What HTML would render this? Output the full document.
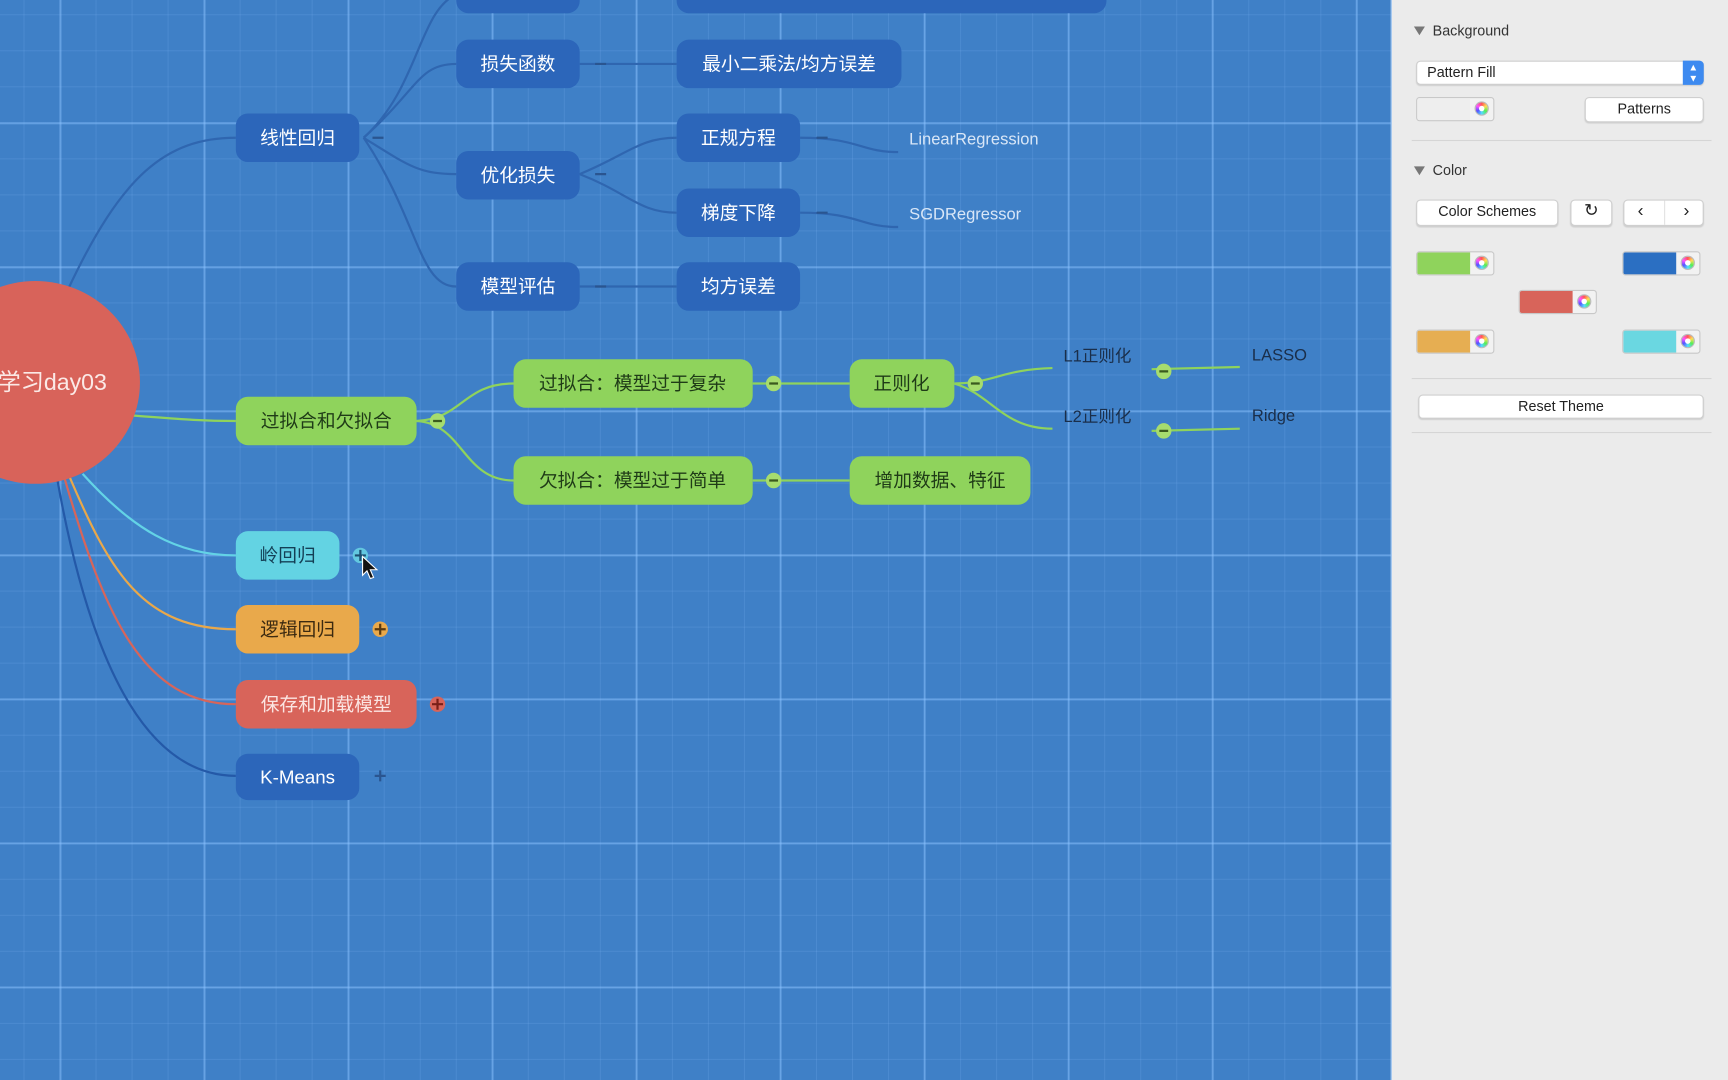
<!DOCTYPE html>
<html><head><meta charset="utf-8"><style>
html,body{margin:0;padding:0;width:1728px;height:1080px;overflow:hidden;background:#3f7fc6}
#w{position:absolute;left:0;top:0;width:1568px;height:980px;transform:scale(1.10204);transform-origin:0 0;font-family:"Liberation Sans","Noto Sans CJK SC",sans-serif}
#cv{position:absolute;left:0;top:0;width:1262px;height:980px;background-color:#3f80c7;
background-image:
linear-gradient(to right,rgba(140,195,255,.45) 0 2px,transparent 2px),
linear-gradient(to bottom,rgba(140,195,255,.45) 0 2px,transparent 2px),
linear-gradient(to right,rgba(120,175,240,.22) 0 1px,transparent 1px),
linear-gradient(to bottom,rgba(120,175,240,.22) 0 1px,transparent 1px);
background-size:130.7px 130.7px,130.7px 130.7px,32.7px 32.7px,32.7px 32.7px;
background-position:54px 0,0 111px,54px 0,0 111px}
#pn{position:absolute;left:1262px;top:0;width:306px;height:980px;background:#ebebeb;border-left:1px solid #9cc3f0;font-size:13px;color:#222}
.btn{position:absolute;background:#fff;border:1px solid #cfcfcf;border-radius:4px;box-shadow:0 1px 1px rgba(0,0,0,.12);text-align:center;font-size:13px;line-height:20px;box-sizing:border-box}
.sw{position:absolute;width:71px;height:22px;border:1px solid #c8c8c8;border-radius:3px;box-sizing:border-box;background:#f2f2f2;overflow:hidden}
.sw i{position:absolute;left:0;top:0;bottom:0;width:48px}
.sw b{position:absolute;right:4px;top:3px;width:13px;height:13px;border-radius:50%;background:conic-gradient(#f55,#fd5,#5e5,#5df,#55f,#f5f,#f55);border:1px solid #bbb;box-sizing:border-box}
.sw b:after{content:"";position:absolute;left:3px;top:3px;width:5px;height:5px;border-radius:50%;background:#fff}
.sep{position:absolute;left:18px;width:272px;height:1px;background:#d5d5d5}
.hd{position:absolute;left:37px;font-size:13px;color:#333}
.tri{position:absolute;left:20px;width:0;height:0;border-left:5px solid transparent;border-right:5px solid transparent;border-top:8px solid #777}
</style></head><body><div id="w">
<div id="cv">
<svg width="1262" height="980" style="position:absolute;left:0;top:0" font-family="Liberation Sans, Noto Sans CJK SC, sans-serif">
<g fill="none" stroke-width="2">
<path d="M62 262 C110 160,150 125,214 125" stroke="#2f66b0"/>
<path d="M330 125 C380 80,380 10,414 -5" stroke="#2f66b0"/>
<path d="M330 125 C380 80,380 58,414 58" stroke="#2f66b0"/>
<path d="M330 125 C370 150,380 158,414 158" stroke="#2f66b0"/>
<path d="M330 125 C380 200,380 260,414 260" stroke="#2f66b0"/>
<path d="M526 58 L614 58" stroke="#2f66b0"/>
<path d="M526 158 C570 140,580 125,614 125" stroke="#2f66b0"/>
<path d="M526 158 C570 175,580 193,614 193" stroke="#2f66b0"/>
<path d="M526 260 L614 260" stroke="#2f66b0"/>
<path d="M726 125 C780 125,780 138,815 138" stroke="#2f66b0"/>
<path d="M726 193 C780 193,780 206,815 206" stroke="#2f66b0"/>
<path d="M120 377 C160 380,180 382,214 382" stroke="#8fd35c"/>
<path d="M378 382 C420 380,420 348,466 348" stroke="#8fd35c"/>
<path d="M378 382 C420 384,420 436,466 436" stroke="#8fd35c"/>
<path d="M683 348 L771 348" stroke="#8fd35c"/>
<path d="M683 436 L771 436" stroke="#8fd35c"/>
<path d="M866 348 C900 348,910 335,955 334" stroke="#8fd35c"/>
<path d="M866 348 C900 358,910 389,955 389" stroke="#8fd35c"/>
<path d="M1045 335 L1125 333" stroke="#8fd35c"/>
<path d="M1045 391 L1125 389" stroke="#8fd35c"/>
<path d="M75 430 C120 480,160 504,214 504" stroke="#63d3e6"/>
<path d="M62 430 C100 520,130 571,214 571" stroke="#e9a84a"/>
<path d="M58 432 C95 560,130 639,214 639" stroke="#d7655a"/>
<path d="M52 435 C85 620,140 704,214 704" stroke="#2459a8"/>
</g>
<ellipse cx="32" cy="347" rx="95" ry="92" fill="#d8635a"/>
<text x="97" y="354" text-anchor="end" font-size="21" fill="#fbe9e6">学习day03</text>
<g fill="#2c66ba">
<rect x="414" y="-14" width="112" height="26" rx="11"/>
<rect x="614" y="-14" width="390" height="26" rx="11"/>
<rect x="214" y="103" width="112" height="44" rx="11"/>
<rect x="414" y="36" width="112" height="44" rx="11"/>
<rect x="614" y="36" width="204" height="44" rx="11"/>
<rect x="414" y="137" width="112" height="44" rx="11"/>
<rect x="614" y="103" width="112" height="44" rx="11"/>
<rect x="614" y="171" width="112" height="44" rx="11"/>
<rect x="414" y="238" width="112" height="44" rx="11"/>
<rect x="614" y="238" width="112" height="44" rx="11"/>
<rect x="214" y="684" width="112" height="42" rx="11"/>
</g>
<g fill="#8fd35c">
<rect x="214" y="360" width="164" height="44" rx="11"/>
<rect x="466" y="326" width="217" height="44" rx="11"/>
<rect x="466" y="414" width="217" height="44" rx="11"/>
<rect x="771" y="326" width="95" height="44" rx="11"/>
<rect x="771" y="414" width="164" height="44" rx="11"/>
</g>
<rect x="214" y="482" width="94" height="44" rx="11" fill="#63d3e3"/>
<rect x="214" y="549" width="112" height="44" rx="11" fill="#e9a94b"/>
<rect x="214" y="617" width="164" height="44" rx="11" fill="#d8645a"/>
<g font-size="17" fill="#fff" text-anchor="middle">
<text x="270" y="131">线性回归</text>
<text x="470" y="64">损失函数</text>
<text x="716" y="64">最小二乘法/均方误差</text>
<text x="470" y="165">优化损失</text>
<text x="670" y="131">正规方程</text>
<text x="670" y="199">梯度下降</text>
<text x="470" y="266">模型评估</text>
<text x="670" y="266">均方误差</text>
<text x="270" y="711">K-Means</text>
<text x="296" y="645" fill="#fbe5e2">保存和加载模型</text>
</g>
<g font-size="17" fill="#1f3b17" text-anchor="middle">
<text x="296" y="388">过拟合和欠拟合</text>
<text x="574" y="354">过拟合：模型过于复杂</text>
<text x="574" y="442">欠拟合：模型过于简单</text>
<text x="818" y="354">正则化</text>
<text x="853" y="442">增加数据、特征</text>
<text x="261" y="510" fill="#143f55">岭回归</text>
<text x="270" y="577" fill="#3c2a10">逻辑回归</text>
</g>
<g font-size="15" fill="#d8e6f7"><text x="825" y="131">LinearRegression</text><text x="825" y="199">SGDRegressor</text></g>
<g font-size="15" fill="#1a2e4a"><text x="965" y="328">L1正则化</text><text x="965" y="383">L2正则化</text><text x="1136" y="327">LASSO</text><text x="1136" y="382">Ridge</text></g>
<g stroke="#2a5590" stroke-width="2"><path d="M338 125h10M540 58h10M540 158h10M540 260h10M741 125h10M741 193h10"/></g>
<g fill="#a6dc6e"><circle cx="397" cy="382" r="7"/><circle cx="702" cy="348" r="7"/><circle cx="702" cy="436" r="7"/><circle cx="885" cy="348" r="7"/><circle cx="1056" cy="337" r="7"/><circle cx="1056" cy="391" r="7"/></g>
<g stroke="#3a5a1e" stroke-width="2"><path d="M393 382h8M698 348h8M698 436h8M881 348h8M1052 337h8M1052 391h8"/></g>
<circle cx="327" cy="504" r="7" fill="#63c8e0"/><path d="M322 504h10M327 499v10" stroke="#1d4f70" stroke-width="2"/>
<circle cx="345" cy="571" r="7" fill="#e9a94b"/><path d="M340 571h10M345 566v10" stroke="#5a3a10" stroke-width="2"/>
<circle cx="397" cy="639" r="7" fill="#d8645a"/><path d="M392 639h10M397 634v10" stroke="#7a1f18" stroke-width="2"/>
<path d="M340 704h10M345 699v10" stroke="#2a5590" stroke-width="2"/>
<path d="M329 505 l0 17 l4 -4 l3 7 l3 -1 l-3 -7 l6 0 z" fill="#111" stroke="#fff" stroke-width="1"/>
</svg>
</div>
<div id="pn">
<div class="tri" style="top:24px"></div><div class="hd" style="top:20px">Background</div>
<div class="btn" style="left:22px;top:55px;width:261px;height:22px;text-align:left;padding-left:9px;border-radius:4px">Pattern Fill<span style="position:absolute;right:-1px;top:-1px;width:19px;height:22px;background:#3d8af0;border-radius:0 4px 4px 0;color:#fff;font-size:9px;line-height:10px;text-align:center;padding-top:1px;box-sizing:border-box">▲<br>▼</span></div>
<div class="sw" style="left:22px;top:88px"><i style="background:#eeeeee"></i><b></b></div>
<div class="btn" style="left:175px;top:88px;width:108px;height:23px">Patterns</div>
<div class="sep" style="top:127px"></div>
<div class="tri" style="top:151px"></div><div class="hd" style="top:147px">Color</div>
<div class="btn" style="left:22px;top:181px;width:129px;height:24px">Color Schemes</div>
<div class="btn" style="left:162px;top:181px;width:38px;height:24px;font-size:16px">↻</div>
<div class="btn" style="left:210px;top:181px;width:73px;height:24px;font-size:16px"><span style="position:absolute;left:12px">‹</span><span style="position:absolute;left:36px;top:0;width:1px;height:22px;background:#e2e2e2"></span><span style="position:absolute;right:12px">›</span></div>
<div class="sw" style="left:22px;top:228px"><i style="background:#8fd35c"></i><b></b></div>
<div class="sw" style="left:209px;top:228px"><i style="background:#2b6fc2"></i><b></b></div>
<div class="sw" style="left:115px;top:263px"><i style="background:#d8645a"></i><b></b></div>
<div class="sw" style="left:22px;top:299px"><i style="background:#e6ae52"></i><b></b></div>
<div class="sw" style="left:209px;top:299px"><i style="background:#6ad7e1"></i><b></b></div>
<div class="sep" style="top:343px"></div>
<div class="btn" style="left:24px;top:358px;width:259px;height:22px">Reset Theme</div>
<div class="sep" style="top:392px"></div>
</div>
</div></body></html>
